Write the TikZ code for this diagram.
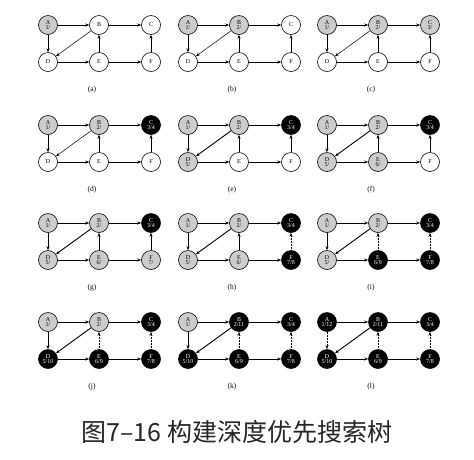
\documentclass[tikz,border=0pt]{standalone}
\usepackage{fontspec}
\setmainfont{Liberation Serif}
\newfontfamily\cjk{Noto Sans CJK SC}
\usetikzlibrary{arrows.meta}

\tikzset{
  vtx/.style={circle, draw, line width=0.6pt, minimum size=19pt, inner sep=0pt,
    align=center, font=\fontsize{6}{5.5}\selectfont},
  wv/.style={vtx, fill=white},
  gv/.style={vtx, fill=gray!40},
  bv/.style={vtx, fill=black, text=white},
  arc/.style={-{Stealth[length=4pt,width=3pt]}, line width=0.5pt},
  tree/.style={arc, line width=0.9pt},
  back/.style={arc, densely dotted, line width=0.8pt},
  lab/.style={font=\fontsize{7.5}{8}\selectfont}
}

\begin{document}
\begin{tikzpicture}[x=1pt, y=-1pt]
\path[fill=white] (0,0) rectangle (474,459);
\useasboundingbox (0,0) rectangle (474,459);

% (a)
\begin{scope}[shift={(0,0)}]
\node[gv] (aA) at (48,25) {A\\1/};
\node[wv] (aB) at (99,25) {B};
\node[wv] (aC) at (151,25) {C};
\node[wv] (aD) at (48,62) {D};
\node[wv] (aE) at (99,62) {E};
\node[wv] (aF) at (151,62) {F};
\draw[arc] (aA) -- (aB);
\draw[arc] (aA) -- (aD);
\draw[arc] (aB) -- (aC);
\draw[arc] (aB) -- (aD);
\draw[arc] (aD) -- (aE);
\draw[arc] (aE) -- (aB);
\draw[arc] (aE) -- (aF);
\draw[arc] (aF) -- (aC);
\node[lab] (la) at (92,90) {(a)};
\end{scope}

% (b)
\begin{scope}[shift={(140,0)}]
\node[gv] (bA) at (48,25) {A\\1/};
\node[gv] (bB) at (99,25) {B\\2/};
\node[wv] (bC) at (151,25) {C};
\node[wv] (bD) at (48,62) {D};
\node[wv] (bE) at (99,62) {E};
\node[wv] (bF) at (151,62) {F};
\draw[tree] (bA) -- (bB);
\draw[arc] (bA) -- (bD);
\draw[arc] (bB) -- (bC);
\draw[arc] (bB) -- (bD);
\draw[arc] (bD) -- (bE);
\draw[arc] (bE) -- (bB);
\draw[arc] (bE) -- (bF);
\draw[arc] (bF) -- (bC);
\node[lab] (lb) at (92,90) {(b)};
\end{scope}

% (c)
\begin{scope}[shift={(279,0)}]
\node[gv] (cA) at (48,25) {A\\1/};
\node[gv] (cB) at (99,25) {B\\2/};
\node[gv] (cC) at (151,25) {C\\3/};
\node[wv] (cD) at (48,62) {D};
\node[wv] (cE) at (99,62) {E};
\node[wv] (cF) at (151,62) {F};
\draw[tree] (cA) -- (cB);
\draw[arc] (cA) -- (cD);
\draw[tree] (cB) -- (cC);
\draw[arc] (cB) -- (cD);
\draw[arc] (cD) -- (cE);
\draw[arc] (cE) -- (cB);
\draw[arc] (cE) -- (cF);
\draw[arc] (cF) -- (cC);
\node[lab] (lc) at (92,90) {(c)};
\end{scope}

% (d)
\begin{scope}[shift={(0,100)}]
\node[gv] (dA) at (48,25) {A\\1/};
\node[gv] (dB) at (99,25) {B\\2/};
\node[bv] (dC) at (151,25) {C\\3/4};
\node[wv] (dD) at (48,62) {D};
\node[wv] (dE) at (99,62) {E};
\node[wv] (dF) at (151,62) {F};
\draw[tree] (dA) -- (dB);
\draw[arc] (dA) -- (dD);
\draw[tree] (dB) -- (dC);
\draw[arc] (dB) -- (dD);
\draw[arc] (dD) -- (dE);
\draw[arc] (dE) -- (dB);
\draw[arc] (dE) -- (dF);
\draw[arc] (dF) -- (dC);
\node[lab] (ld) at (92,90) {(d)};
\end{scope}

% (e)
\begin{scope}[shift={(140,100)}]
\node[gv] (eA) at (48,25) {A\\1/};
\node[gv] (eB) at (99,25) {B\\2/};
\node[bv] (eC) at (151,25) {C\\3/4};
\node[gv] (eD) at (48,62) {D\\5/};
\node[wv] (eE) at (99,62) {E};
\node[wv] (eF) at (151,62) {F};
\draw[tree] (eA) -- (eB);
\draw[arc] (eA) -- (eD);
\draw[tree] (eB) -- (eC);
\draw[tree] (eB) -- (eD);
\draw[arc] (eD) -- (eE);
\draw[arc] (eE) -- (eB);
\draw[arc] (eE) -- (eF);
\draw[arc] (eF) -- (eC);
\node[lab] (le) at (92,90) {(e)};
\end{scope}

% (f)
\begin{scope}[shift={(279,100)}]
\node[gv] (fA) at (48,25) {A\\1/};
\node[gv] (fB) at (99,25) {B\\2/};
\node[bv] (fC) at (151,25) {C\\3/4};
\node[gv] (fD) at (48,62) {D\\5/};
\node[gv] (fE) at (99,62) {E\\6/};
\node[wv] (fF) at (151,62) {F};
\draw[tree] (fA) -- (fB);
\draw[arc] (fA) -- (fD);
\draw[tree] (fB) -- (fC);
\draw[tree] (fB) -- (fD);
\draw[tree] (fD) -- (fE);
\draw[arc] (fE) -- (fB);
\draw[arc] (fE) -- (fF);
\draw[arc] (fF) -- (fC);
\node[lab] (lf) at (92,90) {(f)};
\end{scope}

% (g)
\begin{scope}[shift={(0,198)}]
\node[gv] (gA) at (48,25) {A\\1/};
\node[gv] (gB) at (99,25) {B\\2/};
\node[bv] (gC) at (151,25) {C\\3/4};
\node[gv] (gD) at (48,62) {D\\5/};
\node[gv] (gE) at (99,62) {E\\6/};
\node[gv] (gF) at (151,62) {F\\7/};
\draw[tree] (gA) -- (gB);
\draw[arc] (gA) -- (gD);
\draw[tree] (gB) -- (gC);
\draw[tree] (gB) -- (gD);
\draw[tree] (gD) -- (gE);
\draw[arc] (gE) -- (gB);
\draw[tree] (gE) -- (gF);
\draw[arc] (gF) -- (gC);
\node[lab] (lg) at (92,90) {(g)};
\end{scope}

% (h)
\begin{scope}[shift={(140,198)}]
\node[gv] (hA) at (48,25) {A\\1/};
\node[gv] (hB) at (99,25) {B\\2/};
\node[bv] (hC) at (151,25) {C\\3/4};
\node[gv] (hD) at (48,62) {D\\5/};
\node[gv] (hE) at (99,62) {E\\6/};
\node[bv] (hF) at (151,62) {F\\7/8};
\draw[tree] (hA) -- (hB);
\draw[arc] (hA) -- (hD);
\draw[tree] (hB) -- (hC);
\draw[tree] (hB) -- (hD);
\draw[tree] (hD) -- (hE);
\draw[arc] (hE) -- (hB);
\draw[tree] (hE) -- (hF);
\draw[back] (hF) -- (hC);
\node[lab] (lh) at (92,90) {(h)};
\end{scope}

% (i)
\begin{scope}[shift={(279,198)}]
\node[gv] (iA) at (48,25) {A\\1/};
\node[gv] (iB) at (99,25) {B\\2/};
\node[bv] (iC) at (151,25) {C\\3/4};
\node[gv] (iD) at (48,62) {D\\5/};
\node[bv] (iE) at (99,62) {E\\6/9};
\node[bv] (iF) at (151,62) {F\\7/8};
\draw[tree] (iA) -- (iB);
\draw[arc] (iA) -- (iD);
\draw[tree] (iB) -- (iC);
\draw[tree] (iB) -- (iD);
\draw[tree] (iD) -- (iE);
\draw[back] (iE) -- (iB);
\draw[tree] (iE) -- (iF);
\draw[back] (iF) -- (iC);
\node[lab] (li) at (92,90) {(i)};
\end{scope}

% (j)
\begin{scope}[shift={(0,297)}]
\node[gv] (jA) at (48,25) {A\\1/};
\node[gv] (jB) at (99,25) {B\\2/};
\node[bv] (jC) at (151,25) {C\\3/4};
\node[bv] (jD) at (48,62) {D\\5/10};
\node[bv] (jE) at (99,62) {E\\6/9};
\node[bv] (jF) at (151,62) {F\\7/8};
\draw[tree] (jA) -- (jB);
\draw[arc] (jA) -- (jD);
\draw[tree] (jB) -- (jC);
\draw[tree] (jB) -- (jD);
\draw[tree] (jD) -- (jE);
\draw[back] (jE) -- (jB);
\draw[tree] (jE) -- (jF);
\draw[back] (jF) -- (jC);
\node[lab] (lj) at (92,90) {(j)};
\end{scope}

% (k)
\begin{scope}[shift={(140,297)}]
\node[gv] (kA) at (48,25) {A\\1/};
\node[bv] (kB) at (99,25) {B\\2/11};
\node[bv] (kC) at (151,25) {C\\3/4};
\node[bv] (kD) at (48,62) {D\\5/10};
\node[bv] (kE) at (99,62) {E\\6/9};
\node[bv] (kF) at (151,62) {F\\7/8};
\draw[tree] (kA) -- (kB);
\draw[arc] (kA) -- (kD);
\draw[tree] (kB) -- (kC);
\draw[tree] (kB) -- (kD);
\draw[tree] (kD) -- (kE);
\draw[back] (kE) -- (kB);
\draw[tree] (kE) -- (kF);
\draw[back] (kF) -- (kC);
\node[lab] (lk) at (92,90) {(k)};
\end{scope}

% (l)
\begin{scope}[shift={(279,297)}]
\node[bv] (lA) at (48,25) {A\\1/12};
\node[bv] (lB) at (99,25) {B\\2/11};
\node[bv] (lC) at (151,25) {C\\3/4};
\node[bv] (lD) at (48,62) {D\\5/10};
\node[bv] (lE) at (99,62) {E\\6/9};
\node[bv] (lF) at (151,62) {F\\7/8};
\draw[tree] (lA) -- (lB);
\draw[back] (lA) -- (lD);
\draw[tree] (lB) -- (lC);
\draw[tree] (lB) -- (lD);
\draw[tree] (lD) -- (lE);
\draw[back] (lE) -- (lB);
\draw[tree] (lE) -- (lF);
\draw[back] (lF) -- (lC);
\node[lab] (ll) at (92,90) {(l)};
\end{scope}

\node[font=\cjk\fontsize{25}{28}\selectfont, text=black!85] (cap) at (237,432) {图7–16 构建深度优先搜索树};
\end{tikzpicture}
\end{document}
